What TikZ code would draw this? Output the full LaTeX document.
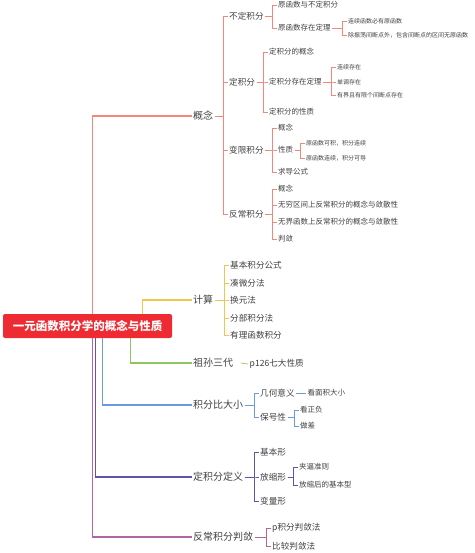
\documentclass[tikz,border=0pt]{standalone}
\usepackage{fontspec}
\usepackage{tikz}
\usetikzlibrary{arrows}
\newfontfamily\cjk{Noto Sans CJK SC}
\definecolor{rootred}{HTML}{EE2B32}
\definecolor{txt}{HTML}{404040}
\definecolor{cgn}{HTML}{F3877B}
\definecolor{cjs}{HTML}{F0C64E}
\definecolor{czs}{HTML}{8DC85A}
\definecolor{cbd}{HTML}{6A9BE0}
\definecolor{cdy}{HTML}{5E55AA}
\definecolor{cpl}{HTML}{B4649E}

\begin{document}
\begin{tikzpicture}[x=1pt,y=-1pt,
  root node/.style={rectangle,rounded corners=2pt,fill=rootred,text=white,inner sep=0pt,
    minimum width=169pt,minimum height=24pt,font=\cjk\bfseries\fontsize{11.5}{12}\selectfont},
  one node/.style={anchor=west,inner sep=1.5pt,text=txt,font=\cjk\fontsize{10}{11}\selectfont},
  two node/.style={one node,font=\cjk\fontsize{8.6}{9}\selectfont},
  three node/.style={one node,font=\cjk\fontsize{7.5}{8}\selectfont},
  four node/.style={one node,font=\cjk\fontsize{6}{7}\selectfont},
  fork/.style={to path={(\tikztostart.east) -| ([xshift=-4.5pt]\tikztotarget.west) -- (\tikztotarget.west)}},
  trunk/.style={line width=1.1pt},
  twig/.style={line width=0.7pt}]
  \useasboundingbox (0,0) rectangle (474,553);

  \node[root node] (root) at (87.5,326) {一元函数积分学的概念与性质};

  % first level
  \node[one node] (gainian) at (191.5,116) {概念};
  \node[one node] (jisuan)  at (191.5,300) {计算};
  \node[one node] (zusun)   at (191.5,363) {祖孙三代};
  \node[one node] (bidaxiao) at (191.5,405) {积分比大小};
  \node[one node] (dingyi)  at (191.5,477) {定积分定义};
  \node[one node] (panlian) at (191.5,537) {反常积分判敛};

  \draw[trunk,cgn] ([xshift=90pt]root.north west) |- (gainian.west);
  \draw[trunk,cjs] ([xshift=140pt]root.north west) |- (jisuan.west);
  \draw[trunk,czs] ([xshift=128pt]root.south west) |- (zusun.west);
  \draw[trunk,cbd] ([xshift=100pt]root.south west) |- (bidaxiao.west);
  \draw[trunk,cpl] ([xshift=90pt]root.south west) |- (panlian.west);
  \draw[trunk,cdy] ([xshift=92.5pt]root.south west) |- (dingyi.west);

  % 概念
  \node[two node] (budingjf) at (227.5,16)  {不定积分};
  \node[two node] (dingjf)   at (227.5,82)  {定积分};
  \node[two node] (bianxian) at (227.5,150) {变限积分};
  \node[two node] (fanchang) at (227.5,214) {反常积分};

  \node[three node] (yhs)  at (276.5,5)  {原函数与不定积分};
  \node[three node] (czdl) at (276.5,28) {原函数存在定理};
  \node[four node] (lxhs) at (346.5,21) {连续函数必有原函数};
  \node[four node] (zdjd) at (346.5,35) {除振荡间断点外，包含间断点的区间无原函数};

  \node[three node] (djgn) at (267.5,52)  {定积分的概念};
  \node[three node] (djcz) at (267.5,82)  {定积分存在定理};
  \node[three node] (djxz) at (267.5,112) {定积分的性质};
  \node[four node] (lxcz) at (335.5,67) {连续存在};
  \node[four node] (ddcz) at (335.5,82) {单调存在};
  \node[four node] (yjcz) at (335.5,95) {有界且有限个间断点存在};

  \node[three node] (bxgn) at (276.5,128) {概念};
  \node[three node] (bxxz) at (276.5,150) {性质};
  \node[three node] (qdgs) at (276.5,172) {求导公式};
  \node[four node] (kjlx) at (304.5,143) {原函数可积，积分连续};
  \node[four node] (lxkd) at (304.5,158) {原函数连续，积分可导};

  \node[three node] (fcgn) at (276.5,189) {概念};
  \node[three node] (wqqj) at (276.5,205) {无穷区间上反常积分的概念与敛散性};
  \node[three node] (wjhs) at (276.5,222) {无界函数上反常积分的概念与敛散性};
  \node[three node] (fcpl) at (276.5,239) {判敛};

  \path[twig,draw=cgn]
    (gainian) edge[fork] (budingjf)
    (gainian) edge[fork] (dingjf)
    (gainian) edge[fork] (bianxian)
    (gainian) edge[fork] (fanchang)
    (budingjf) edge[fork] (yhs)
    (budingjf) edge[fork] (czdl)
    (czdl) edge[fork] (lxhs)
    (czdl) edge[fork] (zdjd)
    (dingjf) edge[fork] (djgn)
    (dingjf) edge[fork] (djcz)
    (dingjf) edge[fork] (djxz)
    (djcz) edge[fork] (lxcz)
    (djcz) edge[fork] (ddcz)
    (djcz) edge[fork] (yjcz)
    (bianxian) edge[fork] (bxgn)
    (bianxian) edge[fork] (bxxz)
    (bianxian) edge[fork] (qdgs)
    (bxxz) edge[fork] (kjlx)
    (bxxz) edge[fork] (lxkd)
    (fanchang) edge[fork] (fcgn)
    (fanchang) edge[fork] (wqqj)
    (fanchang) edge[fork] (wjhs)
    (fanchang) edge[fork] (fcpl);

  % 计算
  \node[two node] (jbgs) at (228.5,265) {基本积分公式};
  \node[two node] (cwf)  at (228.5,283) {凑微分法};
  \node[two node] (hyf)  at (228.5,300) {换元法};
  \node[two node] (fbf)  at (228.5,318) {分部积分法};
  \node[two node] (ylhs) at (228.5,335) {有理函数积分};

  \path[twig,draw=cjs]
    (jisuan) edge[fork] (jbgs)
    (jisuan) edge[fork] (cwf)
    (jisuan) edge[fork] (hyf)
    (jisuan) edge[fork] (fbf)
    (jisuan) edge[fork] (ylhs);

  % 祖孙三代
  \node[two node] (qdxz) at (248,364) {p126七大性质};
  \draw[twig,czs] ([xshift=6pt]zusun.east) -- (qdxz.west);

  % 积分比大小
  \node[two node] (jhyy) at (258.5,393) {几何意义};
  \node[two node] (bhx)  at (258.5,417) {保号性};
  \node[three node] (mjdx) at (306,393) {看面积大小};
  \node[three node] (kzf)  at (298.5,410) {看正负};
  \node[three node] (zc)   at (298.5,426) {做差};

  \path[twig,draw=cbd]
    (bidaxiao) edge[fork] (jhyy)
    (bidaxiao) edge[fork] (bhx)
    (jhyy) edge (mjdx)
    (bhx) edge[fork] (kzf)
    (bhx) edge[fork] (zc);

  % 定积分定义
  \node[two node] (jbx) at (258.5,452) {基本形};
  \node[two node] (fsx) at (258.5,477) {放缩形};
  \node[two node] (blx) at (258.5,501) {变量形};
  \node[three node] (jbzz) at (297.5,467) {夹逼准则};
  \node[three node] (fsjb) at (297.5,485) {放缩后的基本型};

  \path[twig,draw=cdy]
    (dingyi) edge[fork] (jbx)
    (dingyi) edge[fork] (fsx)
    (dingyi) edge[fork] (blx)
    (fsx) edge[fork] (jbzz)
    (fsx) edge[fork] (fsjb);

  % 反常积分判敛
  \node[two node] (pjf) at (270.5,528) {p积分判敛法};
  \node[two node] (bjf) at (270.5,546) {比较判敛法};

  \path[twig,draw=cpl]
    (panlian) edge[fork] (pjf)
    (panlian) edge[fork] (bjf);
\end{tikzpicture}
\end{document}
